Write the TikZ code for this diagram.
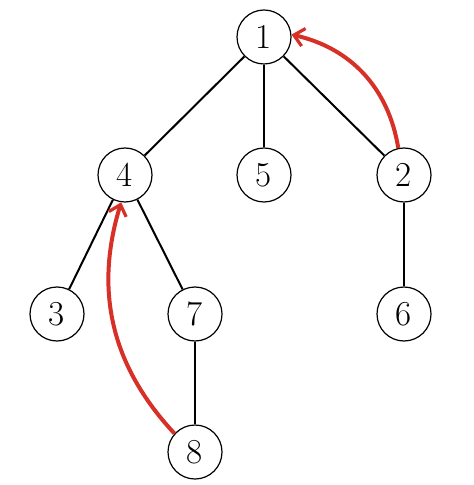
\documentclass[tikz,border=0pt]{standalone}
\usetikzlibrary{arrows.meta}
\definecolor{arrowred}{RGB}{214,48,39}
\begin{document}
\begin{tikzpicture}[x=0.5pt,y=-0.5pt,
  vert/.style={circle,draw,line width=0.6pt,minimum size=27pt,inner sep=0pt,font=\fontsize{17.5}{20}\selectfont},
  edge/.style={line width=1pt},
  back/.style={arrowred,line width=2pt,-{Straight Barb[length=5pt,width=9pt,line width=1.6pt]}}]
\useasboundingbox (0,0) rectangle (474,485);
\node[vert] (n1) at (264,37) {1};
\node[vert] (n4) at (125,175) {4};
\node[vert] (n5) at (264,175) {5};
\node[vert] (n2) at (404,175) {2};
\node[vert] (n3) at (57,314) {3};
\node[vert] (n7) at (195,314) {7};
\node[vert] (n6) at (404,314) {6};
\node[vert] (n8) at (195,452) {8};
\draw[edge] (n1) -- (n4);
\draw[edge] (n1) -- (n5);
\draw[edge] (n1) -- (n2);
\draw[edge] (n4) -- (n3);
\draw[edge] (n4) -- (n7);
\draw[edge] (n2) -- (n6);
\draw[edge] (n7) -- (n8);
\draw[back] (n2.102) to[bend right=34] (n1.5);
\draw[back] (n8.138) to[bend left=30] (n4.262);
\end{tikzpicture}
\end{document}
